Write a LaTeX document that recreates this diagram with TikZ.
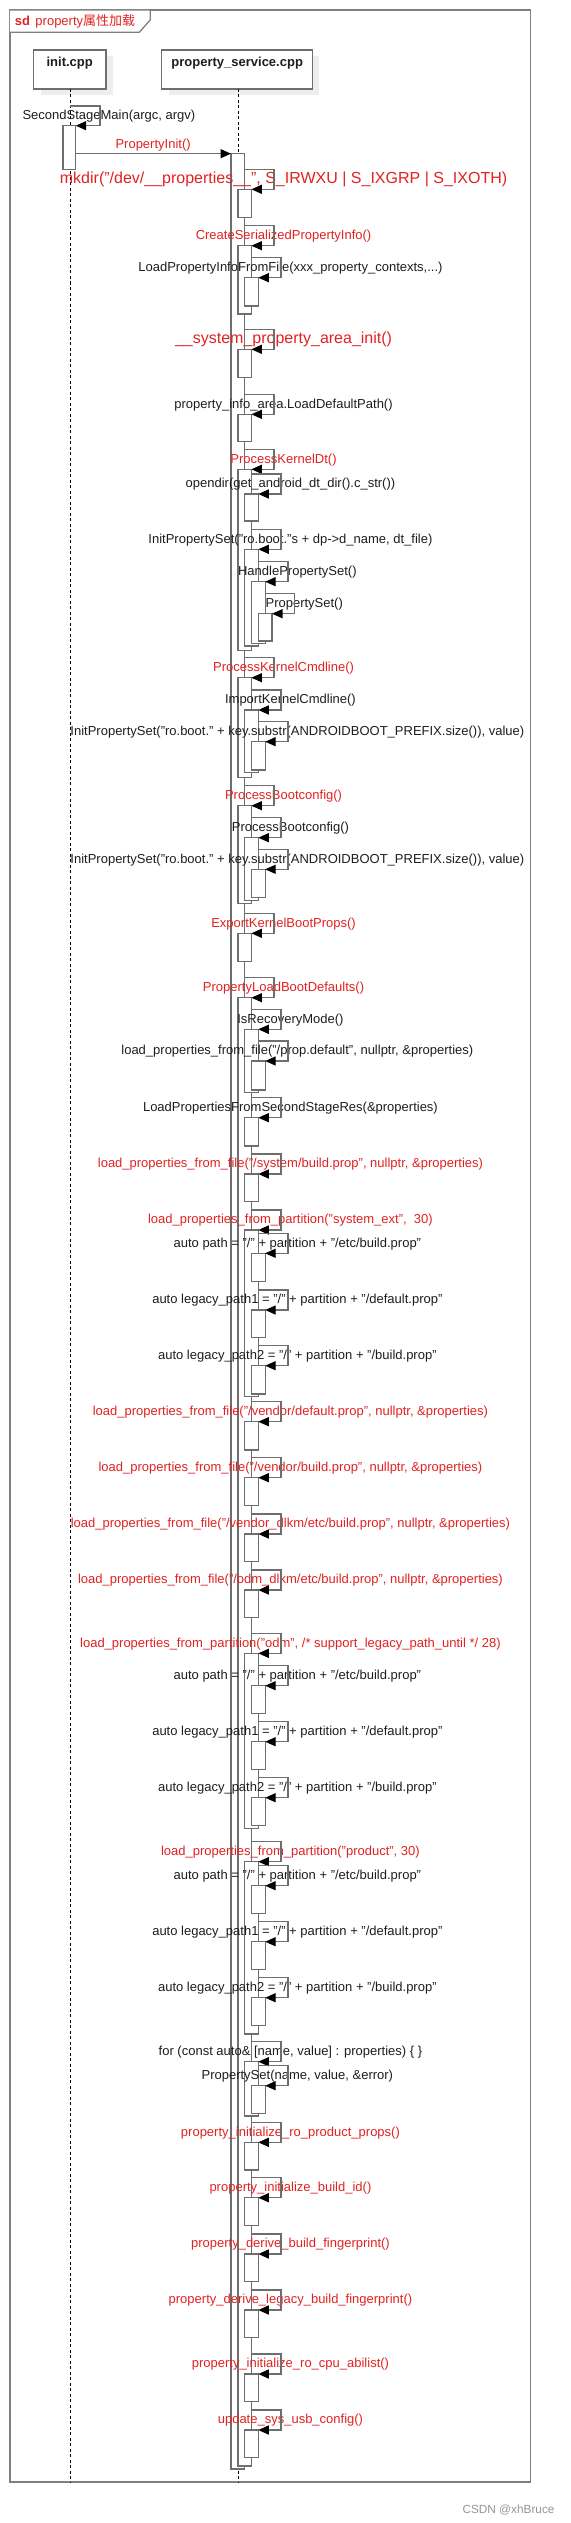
\documentclass[tikz,border=0pt]{standalone}
\usepackage{fontspec}
\setmainfont{Liberation Sans}
\newfontfamily\cjk{Noto Sans CJK SC}
\usetikzlibrary{arrows.meta}
\definecolor{linegray}{RGB}{110,110,110}
\definecolor{framegray}{RGB}{128,128,128}
\definecolor{txtred}{RGB}{226,34,34}
\definecolor{txtblack}{RGB}{30,30,30}
\definecolor{shadowgray}{RGB}{238,238,238}
\definecolor{wmgray}{RGB}{150,150,150}
\tikzset{
  actbar/.style={rectangle, draw=linegray, fill=white, line width=1.3pt, inner sep=0pt, outer sep=0pt, minimum width=13.45pt},
  loopline/.style={draw=linegray, line width=1.3pt, -{Triangle[length=10.5pt,width=9pt,color=black]}},
  lbl/.style={inner sep=0pt, font=\fontsize{13}{15}\selectfont},
  redlbl/.style={lbl, text=txtred},
  blklbl/.style={lbl, text=txtblack},
  biglbl/.style={inner sep=0pt, font=\fontsize{16}{19}\selectfont, text=txtred},
  headbox/.style={rectangle, draw=linegray, fill=white, line width=1.3pt, inner sep=0pt, outer sep=0pt},
  headtxt/.style={inner sep=0pt, font=\fontsize{13}{15}\selectfont\bfseries, text=txtblack},
  lifeline/.style={draw=black, line width=0.6pt, dash pattern=on 3pt off 2.5pt},
}
% #1 name, #2 level, #3 loop top y, #4 bar bottom y, #5 label style, #6 label
\newcommand\selfcall[6]{%
  \pgfmathsetmacro\xl{231.0+6.9*(#2-1)}%
  \pgfmathsetmacro\xp{\xl+6.55}%
  \pgfmathsetmacro\xo{\xp+29.6}%
  \pgfmathsetmacro\ya{#3+20}%
  \pgfmathsetmacro\bh{#4-\ya}%
  \node[actbar, minimum height=\bh pt, anchor=north west] (#1) at (\xl,\ya) {};
  \node[#5, anchor=base] (#1-lbl) at (\xp+39.1,#3+13.8) {#6};
  \draw[loopline] (\xp,#3) -- (\xo,#3) -- (\xo,\ya) -- (#1.north east);
}
\begin{document}
\begin{tikzpicture}[x=1pt,y=-1pt]
\useasboundingbox (0,0) rectangle (570,2523);
\fill[white] (0,0) rectangle (570,2523);
% frame
\draw[framegray, line width=1.5pt] (9.8,10) rectangle (530.4,2482);
\draw[framegray, line width=1.3pt, fill=white] (9.8,10) -- (150.2,10) -- (150.2,20) -- (139.3,32.3) -- (9.8,32.3);
\node[inner sep=0pt, anchor=base west, text=txtred, font=\fontsize{13}{15}\selectfont] (title) at (14.6,25.5) {\textbf{sd}\hspace{5.5pt}property{\cjk 属性加载}};
% heads
\fill[shadowgray] (40.5,56.5) rectangle (112.8,95.5);
\fill[shadowgray] (168.5,56.5) rectangle (319.4,95.5);
\node[headbox, minimum width=72.4pt, minimum height=39pt, anchor=north west] (init) at (33.5,50) {};
\node[headbox, minimum width=151.3pt, minimum height=39pt, anchor=north west] (ps) at (161.5,50) {};
\node[headtxt, anchor=base] (init-name) at (69.7,66.7) {init.cpp};
\node[headtxt, anchor=base] (ps-name) at (237.2,66.7) {property\_service.cpp};
% lifelines
\coordinate (init-end) at (70.2,2482);
\coordinate (ps-end) at (238.3,2482);
\draw[lifeline] (init.south -| init-end) -- (init-end);
\draw[lifeline] (ps.south -| ps-end) -- (ps-end);
% init activation and SecondStageMain
\node[actbar, minimum width=12.8pt, minimum height=43.6pt, anchor=north west] (initbar) at (62.9,125.7) {};
\node[blklbl, anchor=base] (ssm-lbl) at (108.9,119.5) {SecondStageMain(argc, argv)};
\draw[loopline] (70.2,106) -- (100,106) -- (100,125.7) -- (initbar.north east);
% PropertyInit
\node[actbar, minimum height=2315.3pt, anchor=north west] (psbar) at (231,153.7) {};
\node[redlbl, anchor=base] (pi-lbl) at (153.1,149) {PropertyInit()};
\draw[loopline] (initbar.east |- psbar.north west) -- (psbar.north west);
% self calls
\selfcall{c3}{2}{169.3}{217.3}{biglbl}{mkdir("/dev/\_\_properties\_\_", S\_IRWXU | S\_IXGRP | S\_IXOTH)}
\selfcall{c4}{2}{225.7}{314}{redlbl}{CreateSerializedPropertyInfo()}
\selfcall{c5}{3}{257.7}{306}{blklbl}{LoadPropertyInfoFromFile(xxx\_property\_contexts,...)}
\selfcall{c6}{2}{329.3}{377.3}{biglbl}{\_\_system\_property\_area\_init()}
\selfcall{c7}{2}{394.3}{441.7}{blklbl}{property\_info\_area.LoadDefaultPath()}
\selfcall{c8}{2}{449.3}{650.7}{redlbl}{ProcessKernelDt()}
\selfcall{c9}{3}{474}{521}{blklbl}{opendir(get\_android\_dt\_dir().c\_str())}
\selfcall{c10}{3}{529.3}{646}{blklbl}{InitPropertySet("ro.boot."s + dp->d\_name, dt\_file)}
\selfcall{c11}{4}{561.7}{643.3}{blklbl}{HandlePropertySet()}
\selfcall{c12}{5}{593.7}{641}{blklbl}{PropertySet()}
\selfcall{c13}{2}{657.7}{777.7}{redlbl}{ProcessKernelCmdline()}
\selfcall{c14}{3}{690}{772.7}{blklbl}{ImportKernelCmdline()}
\selfcall{c15}{4}{721.7}{770}{blklbl}{InitPropertySet("ro.boot." + key.substr(ANDROIDBOOT\_PREFIX.size()), value)}
\selfcall{c16}{2}{785.7}{903.3}{redlbl}{ProcessBootconfig()}
\selfcall{c17}{3}{817.7}{900.7}{blklbl}{ProcessBootconfig()}
\selfcall{c18}{4}{849.3}{897.7}{blklbl}{InitPropertySet("ro.boot." + key.substr(ANDROIDBOOT\_PREFIX.size()), value)}
\selfcall{c19}{2}{913.3}{961.7}{redlbl}{ExportKernelBootProps()}
\selfcall{c20}{2}{977.7}{2466}{redlbl}{PropertyLoadBootDefaults()}
\selfcall{c21}{3}{1009.3}{1092.3}{blklbl}{IsRecoveryMode()}
\selfcall{c22}{4}{1041}{1090}{blklbl}{load\_properties\_from\_file("/prop.default", nullptr, \&properties)}
\selfcall{c23}{3}{1097.7}{1146}{blklbl}{LoadPropertiesFromSecondStageRes(\&properties)}
\selfcall{c24}{3}{1154}{1201.7}{redlbl}{load\_properties\_from\_file("/system/build.prop", nullptr, \&properties)}
\selfcall{c25}{3}{1210}{1396.7}{redlbl}{load\_properties\_from\_partition("system\_ext",\ \ 30)}
\selfcall{c26}{4}{1233.3}{1281.7}{blklbl}{auto path = "/" + partition + "/etc/build.prop"}
\selfcall{c27}{4}{1290}{1337.7}{blklbl}{auto legacy\_path1 = "/" + partition + "/default.prop"}
\selfcall{c28}{4}{1345.7}{1394}{blklbl}{auto legacy\_path2 = "/" + partition + "/build.prop"}
\selfcall{c29}{3}{1401.7}{1450}{redlbl}{load\_properties\_from\_file("/vendor/default.prop", nullptr, \&properties)}
\selfcall{c30}{3}{1457.7}{1505.7}{redlbl}{load\_properties\_from\_file("/vendor/build.prop", nullptr, \&properties)}
\selfcall{c31}{3}{1514}{1561.7}{redlbl}{load\_properties\_from\_file("/vendor\_dlkm/etc/build.prop", nullptr, \&properties)}
\selfcall{c32}{3}{1570}{1617.7}{redlbl}{load\_properties\_from\_file("/odm\_dlkm/etc/build.prop", nullptr, \&properties)}
\selfcall{c33}{3}{1633.3}{1828.3}{redlbl}{load\_properties\_from\_partition("odm", /* support\_legacy\_path\_until */ 28)}
\selfcall{c34}{4}{1665.7}{1713.3}{blklbl}{auto path = "/" + partition + "/etc/build.prop"}
\selfcall{c35}{4}{1721.7}{1769.3}{blklbl}{auto legacy\_path1 = "/" + partition + "/default.prop"}
\selfcall{c36}{4}{1777.7}{1825.7}{blklbl}{auto legacy\_path2 = "/" + partition + "/build.prop"}
\selfcall{c37}{3}{1841.7}{2034}{redlbl}{load\_properties\_from\_partition("product", 30)}
\selfcall{c38}{4}{1865.7}{1913.3}{blklbl}{auto path = "/" + partition + "/etc/build.prop"}
\selfcall{c39}{4}{1921.7}{1969.3}{blklbl}{auto legacy\_path1 = "/" + partition + "/default.prop"}
\selfcall{c40}{4}{1977.7}{2025.7}{blklbl}{auto legacy\_path2 = "/" + partition + "/build.prop"}
\selfcall{c41}{3}{2041.7}{2116}{blklbl}{for (const auto\& [name, value] : properties) \{ \}}
\selfcall{c42}{4}{2065.7}{2113.3}{blklbl}{PropertySet(name, value, \&error)}
\selfcall{c43}{3}{2122.3}{2170}{redlbl}{property\_initialize\_ro\_product\_props()}
\selfcall{c44}{3}{2177.7}{2225.7}{redlbl}{property\_initialize\_build\_id()}
\selfcall{c45}{3}{2234}{2281.7}{redlbl}{property\_derive\_build\_fingerprint()}
\selfcall{c46}{3}{2290}{2337.3}{redlbl}{property\_derive\_legacy\_build\_fingerprint()}
\selfcall{c47}{3}{2354}{2401.7}{redlbl}{property\_initialize\_ro\_cpu\_abilist()}
\selfcall{c48}{3}{2410}{2457.7}{redlbl}{update\_sys\_usb\_config()}
% watermark
\node[inner sep=0pt, anchor=base east, text=wmgray, font=\fontsize{11.8}{14}\selectfont] (wm) at (554.7,2513) {CSDN @xhBruce};
\end{tikzpicture}
\end{document}
